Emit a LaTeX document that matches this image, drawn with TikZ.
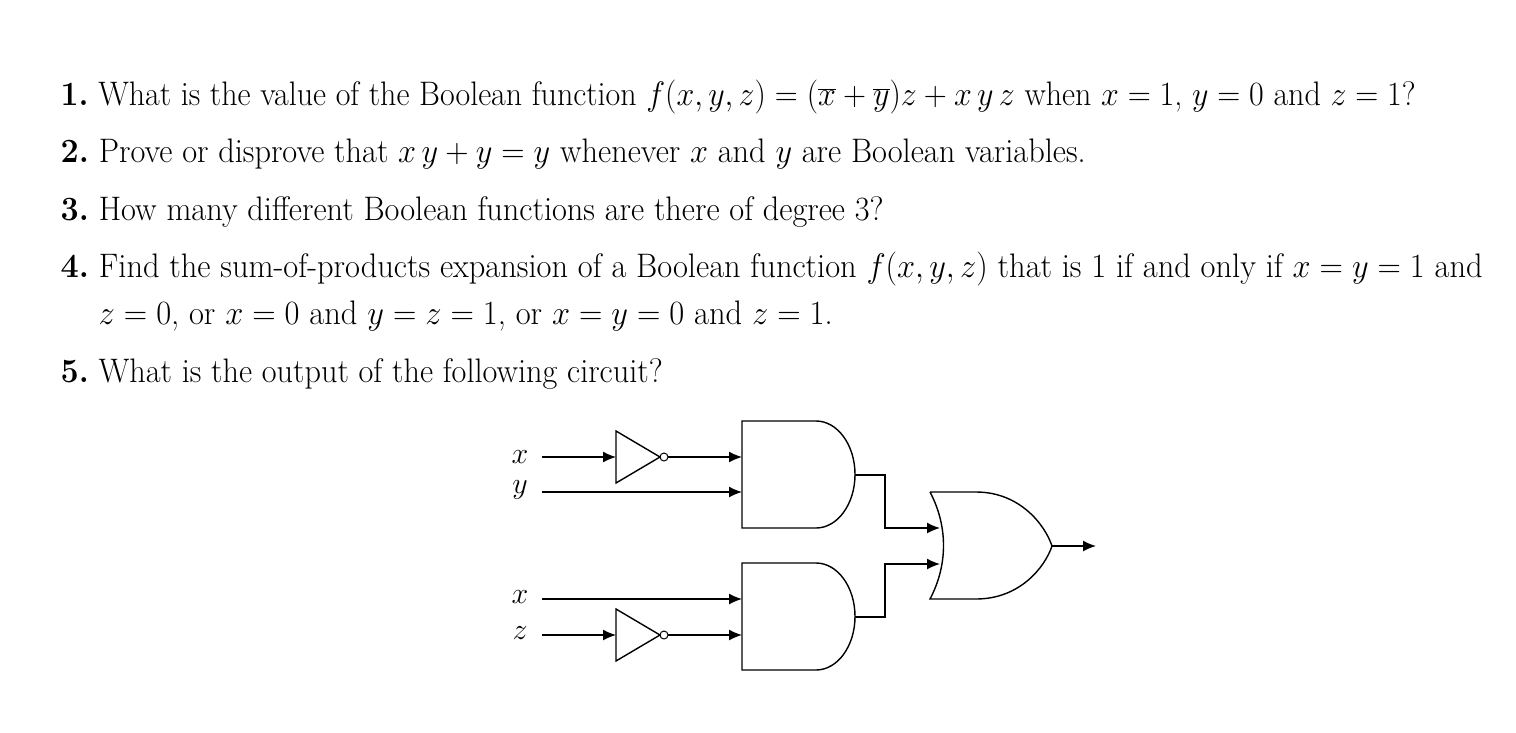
\RequirePackage{fix-cm}
\documentclass[tikz,border=0pt]{standalone}
\usepackage{graphicx}
\usetikzlibrary{arrows.meta}
\begin{document}
\begin{tikzpicture}[x=1pt,y=-1pt,line width=1.4pt,
  arr/.style={-{Latex[length=13pt,width=11pt]}},
  ln/.style={anchor=base west,inner sep=0pt},
  lbl/.style={inner sep=0pt,font=\fontsize{30}{30}\selectfont}]
\useasboundingbox (0,0) rectangle (1516,732);
\newcommand{\LL}[2]{\resizebox{#1pt}{\height}{\fontsize{34}{40}\selectfont #2}}
\node[ln] (l1) at (60,105) {\LL{1355}{\textbf{1.}\ What is the value of the Boolean function $f(x,y,z)=(\overline{x}+\overline{y})z+x\,y\,z$ when $x=1$,\ $y=0$ and $z=1$?}};
\node[ln] (l2) at (60,162) {\LL{1025}{\textbf{2.}\ Prove or disprove that $x\,y+y=y$ whenever $x$ and $y$ are Boolean variables.}};
\node[ln] (l3) at (60,220) {\LL{823}{\textbf{3.}\ How many different Boolean functions are there of degree $3$?}};
\node[ln] (l4) at (60,277) {\LL{1422}{\textbf{4.}\ Find the sum-of-products expansion of a Boolean function $f(x,y,z)$ that is 1 if and only if $x=y=1$ and}};
\node[ln] (l4b) at (98,324) {\LL{734}{$z=0$,\ or $x=0$ and $y=z=1$,\ or $x=y=0$ and $z=1$.}};
\node[ln] (l5) at (60,382) {\LL{602}{\textbf{5.}\ What is the output of the following circuit?}};
% labels
\node[lbl] (ix1) at (520,457) {$x$};
\node[lbl] (iy) at (520,490) {$y$};
\node[lbl] (ix2) at (520,597) {$x$};
\node[lbl] (iz) at (520,633) {$z$};
% NOT gates
\coordinate (n1in) at (616,457); \coordinate (n1b) at (664,457);
\coordinate (n2in) at (616,635); \coordinate (n2b) at (664,635);
\draw (616,431) -- (660,457) -- (616,483) -- cycle;
\draw[line width=1pt] (n1b) circle (4);
\draw (616,609) -- (660,635) -- (616,661) -- cycle;
\draw[line width=1pt] (n2b) circle (4);
% AND gates
\draw (742,421) -- (816,421) arc[start angle=-90,end angle=90,x radius=39,y radius=53.5] -- (742,528) -- cycle;
\draw (742,563) -- (816,563) arc[start angle=-90,end angle=90,x radius=39,y radius=53.5] -- (742,670) -- cycle;
\coordinate (a1o) at (855,475); \coordinate (a2o) at (855,617);
% OR gate
\draw (930,492) -- (976,492) .. controls (1020,492) and (1045,525) .. (1052,546)
  .. controls (1045,567) and (1020,599) .. (976,599) -- (930,599)
  .. controls (948,565) and (948,526) .. (930,492);
\coordinate (oo) at (1052,546); \coordinate (out) at (1096,546);
% wires
\draw[arr] (542,457) -- (n1in);
\draw[arr] (668,457) -- (742,457);
\draw[arr] (542,492) -- (742,492);
\draw[arr] (542,599) -- (742,599);
\draw[arr] (542,635) -- (n2in);
\draw[arr] (668,635) -- (742,635);
\draw[arr] (a1o) -- (885,475) -- (885,528) -- (940,528);
\draw[arr] (a2o) -- (885,617) -- (885,564) -- (940,564);
\draw[arr] (oo) -- (out);
\end{tikzpicture}
\end{document}
